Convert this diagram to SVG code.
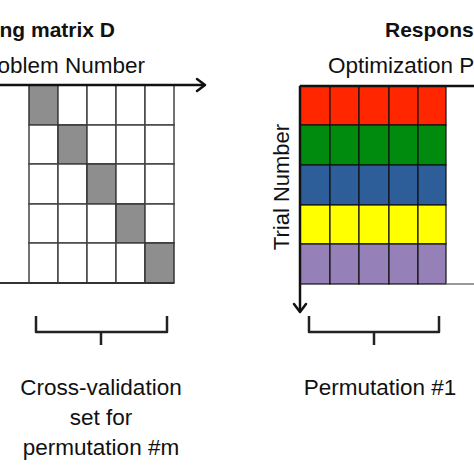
<svg xmlns="http://www.w3.org/2000/svg" width="474" height="474" viewBox="0 0 474 474">
<style>
.t{font-family:"Liberation Sans",Arial,sans-serif;fill:#111}
.b{font-weight:bold}
.lg{fill:#fff;stroke:#444;stroke-width:1.5}
.gr{fill:#8e8e8e;stroke:#333;stroke-width:1.5}
.rg{stroke:#111;stroke-width:1.2}
.ax{stroke:#111;stroke-width:2.5;fill:none}
.hd{stroke:#111;stroke-width:2.5;fill:none;stroke-linecap:round;stroke-linejoin:round}
.br{stroke:#222;stroke-width:2.5;fill:none;stroke-linejoin:round}
</style>
<rect width="474" height="474" fill="#fff"/>
<g id="titles">
<text class="t b" x="115" y="37" font-size="21" text-anchor="end">ng matrix D</text>
<text class="t" x="145" y="73" font-size="22.5" text-anchor="end">oblem Number</text>
<text class="t b" x="385" y="37" font-size="21">Respons</text>
<text class="t" x="328" y="73" font-size="22.5">Optimization P</text>
<text class="t" x="0" y="0" font-size="22" text-anchor="middle" transform="translate(289,187) rotate(-90)">Trial Number</text>
</g>
<g id="matrixD">
<g id="rowD1">
<rect class="gr" x="29" y="85" width="29" height="40"/>
<rect class="lg" x="58" y="85" width="29" height="40"/>
<rect class="lg" x="87" y="85" width="29" height="40"/>
<rect class="lg" x="116" y="85" width="29" height="40"/>
<rect class="lg" x="145" y="85" width="29" height="40"/>
</g>
<g id="rowD2">
<rect class="lg" x="29" y="125" width="29" height="39"/>
<rect class="gr" x="58" y="125" width="29" height="39"/>
<rect class="lg" x="87" y="125" width="29" height="39"/>
<rect class="lg" x="116" y="125" width="29" height="39"/>
<rect class="lg" x="145" y="125" width="29" height="39"/>
</g>
<g id="rowD3">
<rect class="lg" x="29" y="164" width="29" height="40"/>
<rect class="lg" x="58" y="164" width="29" height="40"/>
<rect class="gr" x="87" y="164" width="29" height="40"/>
<rect class="lg" x="116" y="164" width="29" height="40"/>
<rect class="lg" x="145" y="164" width="29" height="40"/>
</g>
<g id="rowD4">
<rect class="lg" x="29" y="204" width="29" height="39"/>
<rect class="lg" x="58" y="204" width="29" height="39"/>
<rect class="lg" x="87" y="204" width="29" height="39"/>
<rect class="gr" x="116" y="204" width="29" height="39"/>
<rect class="lg" x="145" y="204" width="29" height="39"/>
</g>
<g id="rowD5">
<rect class="lg" x="29" y="243" width="29" height="40"/>
<rect class="lg" x="58" y="243" width="29" height="40"/>
<rect class="lg" x="87" y="243" width="29" height="40"/>
<rect class="lg" x="116" y="243" width="29" height="40"/>
<rect class="gr" x="145" y="243" width="29" height="40"/>
</g>
<line x1="0" y1="283" x2="174" y2="283" stroke="#333" stroke-width="2"/>
</g>
<g id="matrixR">
<g id="rowR1" fill="#ff2600">
<rect class="rg" x="300" y="86" width="30" height="39"/>
<rect class="rg" x="330" y="86" width="29" height="39"/>
<rect class="rg" x="359" y="86" width="30" height="39"/>
<rect class="rg" x="389" y="86" width="29" height="39"/>
<rect class="rg" x="418" y="86" width="28" height="39"/>
</g>
<g id="rowR2" fill="#008a0e">
<rect class="rg" x="300" y="125" width="30" height="40"/>
<rect class="rg" x="330" y="125" width="29" height="40"/>
<rect class="rg" x="359" y="125" width="30" height="40"/>
<rect class="rg" x="389" y="125" width="29" height="40"/>
<rect class="rg" x="418" y="125" width="28" height="40"/>
</g>
<g id="rowR3" fill="#2d5e99">
<rect class="rg" x="300" y="165" width="30" height="40"/>
<rect class="rg" x="330" y="165" width="29" height="40"/>
<rect class="rg" x="359" y="165" width="30" height="40"/>
<rect class="rg" x="389" y="165" width="29" height="40"/>
<rect class="rg" x="418" y="165" width="28" height="40"/>
</g>
<g id="rowR4" fill="#ffff00">
<rect class="rg" x="300" y="205" width="30" height="39"/>
<rect class="rg" x="330" y="205" width="29" height="39"/>
<rect class="rg" x="359" y="205" width="30" height="39"/>
<rect class="rg" x="389" y="205" width="29" height="39"/>
<rect class="rg" x="418" y="205" width="28" height="39"/>
</g>
<g id="rowR5" fill="#9580b8">
<rect class="rg" x="300" y="244" width="30" height="40"/>
<rect class="rg" x="330" y="244" width="29" height="40"/>
<rect class="rg" x="359" y="244" width="30" height="40"/>
<rect class="rg" x="389" y="244" width="29" height="40"/>
<rect class="rg" x="418" y="244" width="28" height="40"/>
</g>
<line x1="446" y1="284" x2="474" y2="284" stroke="#777" stroke-width="1.5"/>
</g>
<g id="connectors">
<line class="ax" x1="0" y1="85" x2="204" y2="85"/>
<polyline class="hd" points="197,79 205,85 197,91"/>
<line class="ax" x1="300" y1="86" x2="474" y2="86"/>
<line class="ax" x1="300" y1="86" x2="300" y2="311"/>
<polyline class="hd" points="294,304 300,312 306,304"/>
<path class="br" d="M36,316 V332 H167 V316 M101,332 V345"/>
<path class="br" d="M309,316 V332 H439 V316 M374,332 V345"/>
</g>
<g id="labels">
<text class="t" x="101" y="395" font-size="22.5" text-anchor="middle">Cross-validation</text>
<text class="t" x="101" y="425" font-size="22.5" text-anchor="middle">set for</text>
<text class="t" x="101" y="455" font-size="22.5" text-anchor="middle">permutation #m</text>
<text class="t" x="380" y="395" font-size="22.5" text-anchor="middle">Permutation #1</text>
</g>
</svg>
